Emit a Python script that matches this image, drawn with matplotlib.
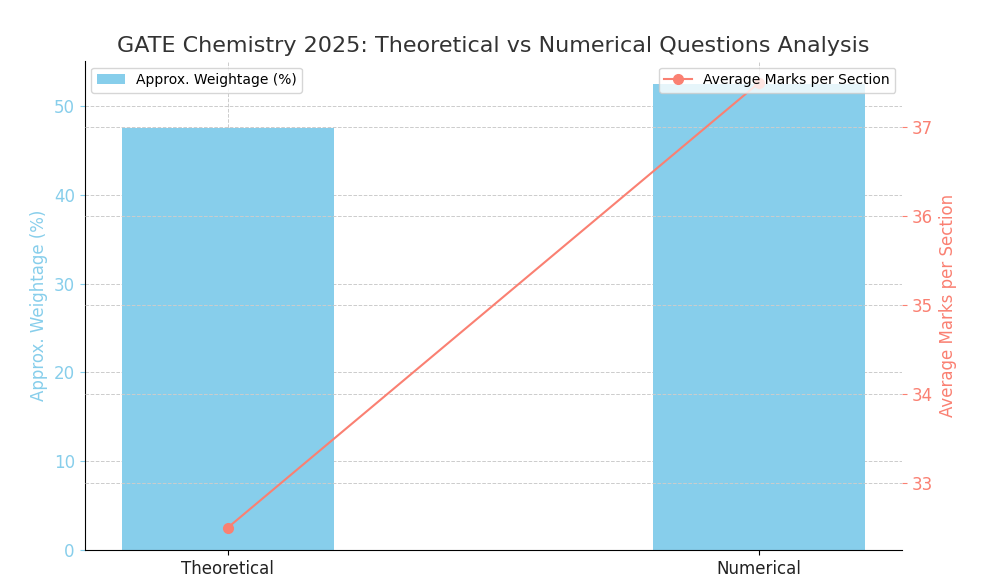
import matplotlib
matplotlib.use("Agg")
import matplotlib.pyplot as plt

categories = ["Theoretical", "Numerical"]
weightage = [47.5, 52.5]
avg_marks = [32.5, 37.5]

bar_color = "#87CEEB"
line_color = "#FA8072"

fig, ax1 = plt.subplots(figsize=(10.06, 5.88), dpi=100)
x = range(len(categories))
ax1.bar(x, weightage, width=0.4, color=bar_color, label="Approx. Weightage (%)")
ax1.set_xticks(list(x))
ax1.set_xticklabels(categories, fontsize=12, color="#222222")
ax1.set_ylabel("Approx. Weightage (%)", color=bar_color, fontsize=12)
ax1.tick_params(axis="y", colors=bar_color, labelsize=12)
ax1.grid(True, linestyle="--", color="#cccccc", linewidth=0.7)
ax1.set_axisbelow(True)
for s in ["top", "right"]:
    ax1.spines[s].set_visible(False)

ax2 = ax1.twinx()
ax2.plot(x, avg_marks, color=line_color, marker="o", markersize=7, label="Average Marks per Section")
ax2.set_ylabel("Average Marks per Section", color=line_color, fontsize=12)
ax2.tick_params(axis="y", colors=line_color, labelsize=12)
ax2.grid(True, linestyle="--", color="#cccccc", linewidth=0.7)
for s in ["top", "right", "left", "bottom"]:
    ax2.spines[s].set_visible(False)

ax1.legend(loc="upper left", fontsize=10)
ax2.legend(loc="upper right", fontsize=10)
ax1.set_title("GATE Chemistry 2025: Theoretical vs Numerical Questions Analysis", fontsize=16, color="#333333")
fig.subplots_adjust(left=0.084, right=0.897, top=0.897, bottom=0.065)
fig.savefig("out.png", dpi=100)
